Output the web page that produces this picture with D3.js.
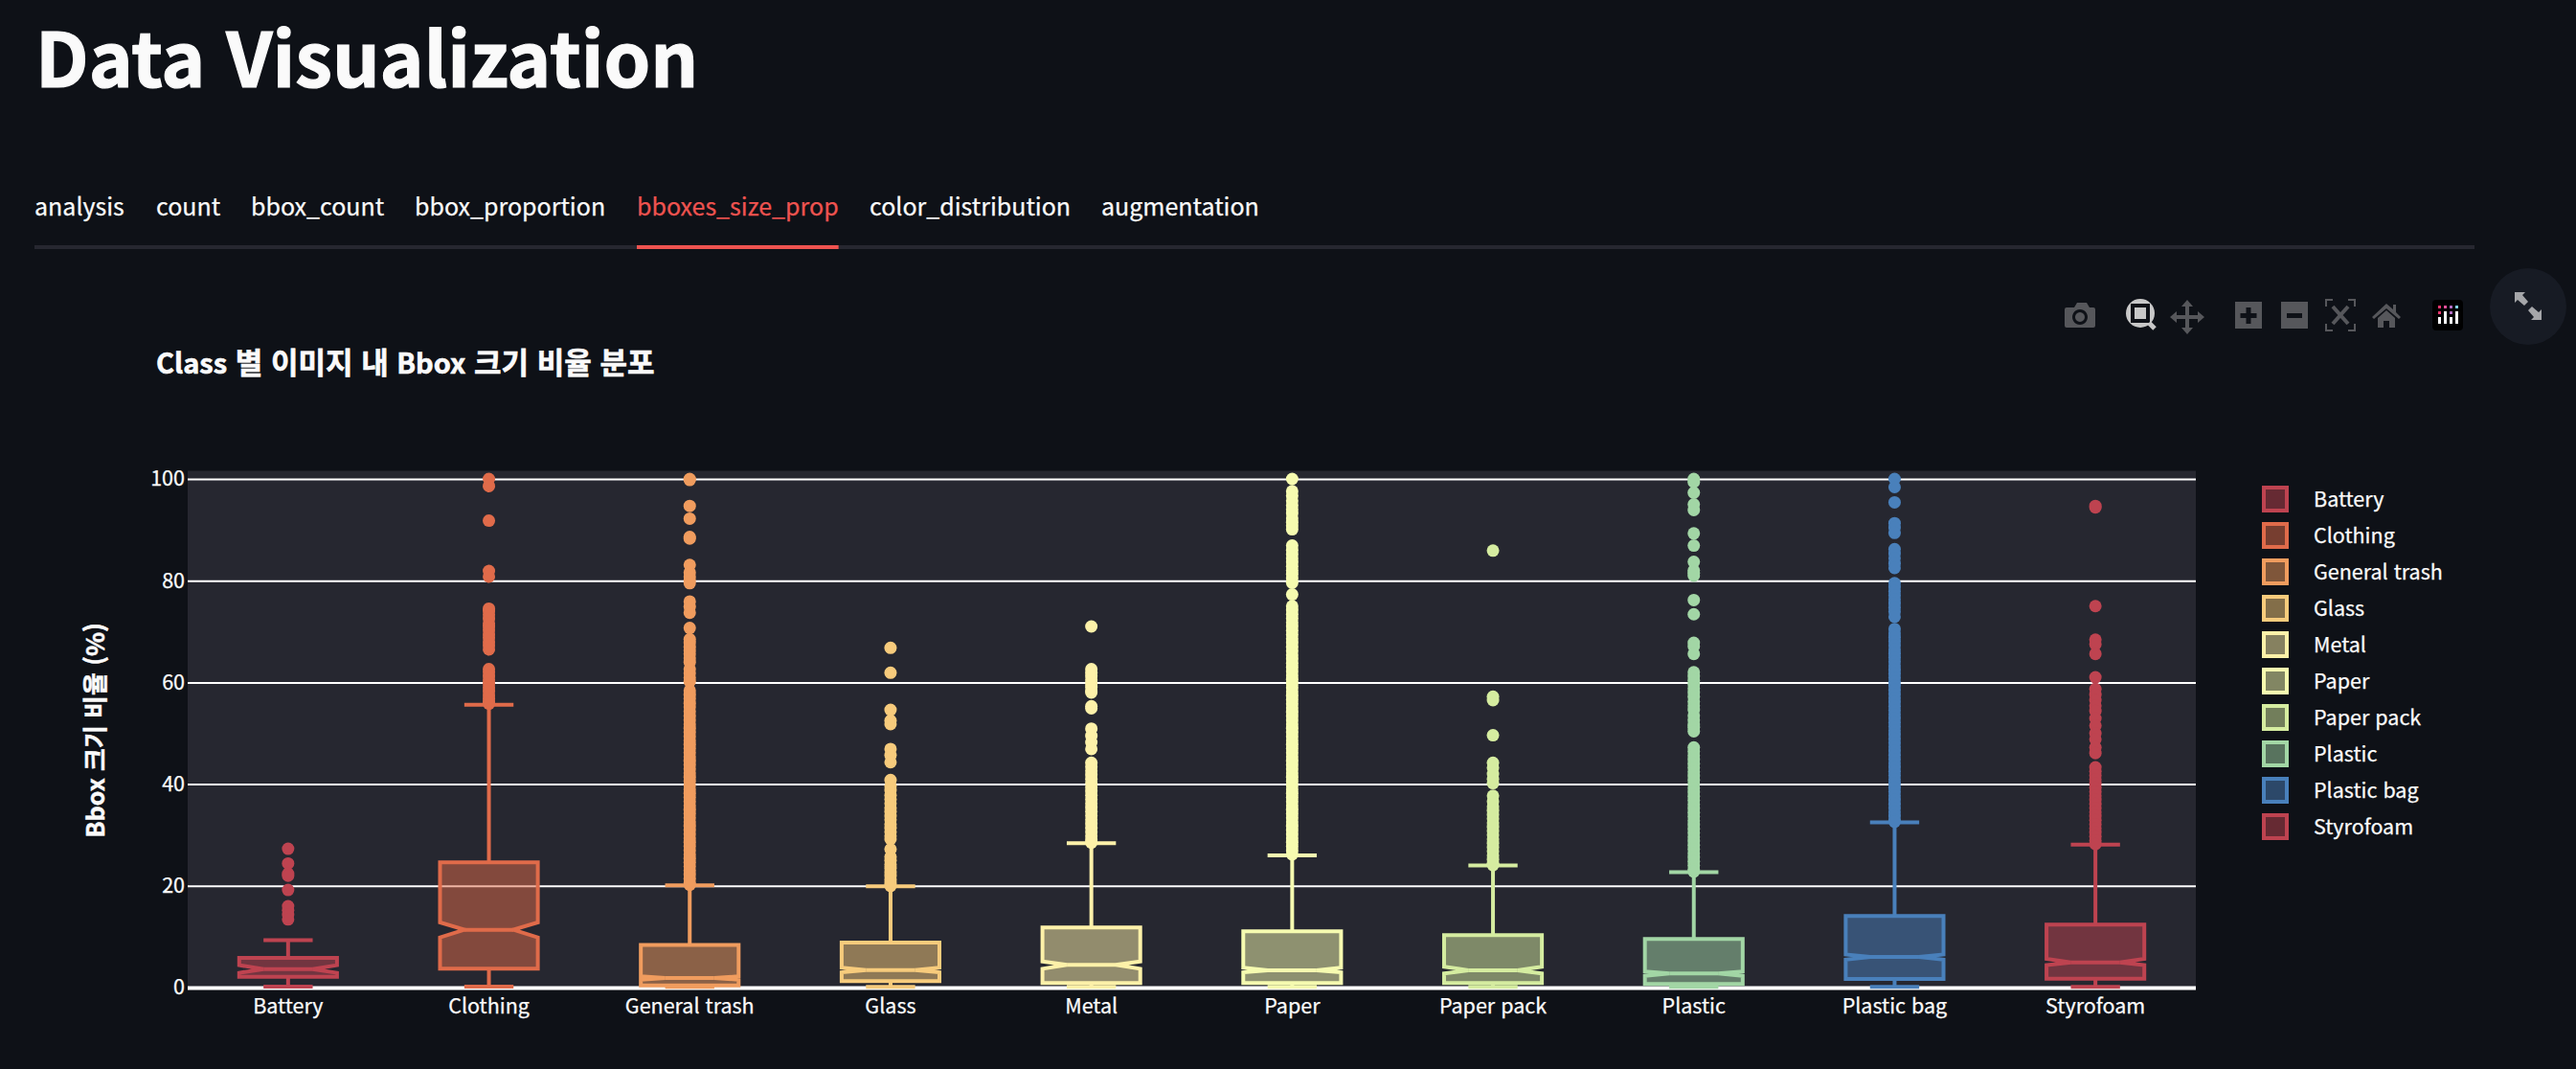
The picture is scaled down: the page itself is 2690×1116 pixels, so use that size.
<!DOCTYPE html>
<html lang="ko">
<head>
<meta charset="utf-8">
<title>Data Visualization</title>
<script src="https://cdnjs.cloudflare.com/ajax/libs/d3/7.8.5/d3.min.js"></script>
<style>
html,body{margin:0;padding:0;background:#0e1117;overflow:hidden}
svg{display:block}
text{font-family:"Noto Sans CJK KR","Noto Sans",sans-serif;stroke:currentColor;stroke-width:.25px}
</style>
</head>
<body>
<svg id="c" width="2690" height="1116"></svg>
<script>
const pageTitle = "Data Visualization";
const chartTitleParts = ["Class"," 별 이미지 내 ","Bbox"," 크기 비율 분포"];
const yTitleParts = ["Bbox"," 크기 비율 (%)"];
const tabs = ["analysis","count","bbox_count","bbox_proportion","bboxes_size_prop","color_distribution","augmentation"];
const activeTab = "bboxes_size_prop";
const yTicks = [0,20,40,60,80,100];

const categories = ["Battery","Clothing","General trash","Glass","Metal","Paper","Paper pack","Plastic","Plastic bag","Styrofoam"];
const colors = ["#be4350","#e06b4a","#f09c5e","#f7cb7c","#fdf1a9","#f6fbb0","#d5eca0","#a2d6a5","#4980bb","#be4350"];

const whiskerLow  = [0.19,0.18,0.12,0.15,0.13,0.13,0.13,0.13,0.15,0.15];
const q1          = [2.13,3.70,0.44,1.26,0.88,0.88,0.88,0.72,1.70,1.76];
const notchLow    = [2.90,9.86,1.57,3.00,3.70,3.00,2.76,2.30,5.50,4.40];
const median      = [3.64,11.37,1.90,3.45,4.46,3.40,3.40,2.76,6.03,4.96];
const notchHigh   = [4.40,12.80,2.20,3.90,5.15,3.90,4.10,3.14,6.50,5.65];
const q3          = [5.84,24.60,8.40,8.86,11.80,11.05,10.30,9.55,14.07,12.37];
const whiskerHigh = [9.30,55.60,20.10,19.90,28.40,26.00,24.00,22.70,32.50,28.10];

const outBattery = [27.3,24.4,22.4,22.0,19.2,16.0,15.2,14.3,13.4];
const outClothing = [100,98.6,91.8,81.9,80.8,74.5,74.0,73.3,72.5,71.6,71.0,70.3,69.5,68.8,68.0,67.3,66.5,62.6,62.0,61.2,60.5,59.8,59.0,58.3,57.5,56.8,56.1,55.8];
const outGeneral = [100,99.8,94.7,92.2,88.6,88.3,83.1,81.6,80.8,80.1,79.5,75.9,74.9,73.7,70.7,68.5,67.8,67.0,66.3,65.6,64.8,64.0,62.6,61.8,60.9,60.2,58.4,57.6,56.8,55.9,55.2,54.3,53.4,52.6,51.8,51.0,50.2,49.4,48.6,47.8,47.0,46.2,45.4,44.6,43.8,43.0,42.2,41.4,40.6,39.8,39.0,38.2,37.4,36.6,35.8,35.0,34.2,33.4,32.6,31.8,31.0,30.2,29.4,28.6,27.8,27.0,26.2,25.4,24.6,23.8,23.0,22.2,21.4,20.6,20.2];
const outGlass = [66.8,61.9,54.6,52.5,51.8,46.9,45.7,44.3,40.8,39.6,38.8,37.8,37.0,36.2,35.3,34.6,33.7,33.0,32.1,31.4,30.6,29.8,29.2,27.2,25.7,25.0,24.2,23.5,22.7,22.0,21.2,20.5,20.0];
const outMetal = [71.0,62.6,61.9,61.2,60.5,59.8,59.1,58.4,58.0,55.3,54.9,50.9,49.5,48.2,46.9,44.2,43.4,42.6,41.8,41.0,40.2,39.4,38.6,37.8,37.0,36.2,35.4,34.6,33.8,33.0,32.2,31.4,30.6,29.8,29.0,28.5];
const outPaper = [100,97.6,96.7,95.7,94.8,94.0,93.2,92.3,91.5,90.8,90.1,86.9,86.0,85.2,84.4,83.6,82.8,82.0,81.3,80.5,79.6,77.3,75.0,74.2,73.4,72.6,71.8,71.0,70.2,69.4,68.6,67.8,67.0,66.2,65.4,64.6,63.8,63.0,62.2,61.4,60.6,59.8,59.0,58.2,57.4,56.6,55.8,55.0,54.2,53.4,52.6,51.8,51.0,50.2,49.4,48.6,47.8,47.0,46.2,45.4,44.6,43.8,43.0,42.2,41.4,40.6,39.8,39.0,38.2,37.4,36.6,35.8,35.0,34.2,33.4,32.6,31.8,31.0,30.2,29.4,28.6,27.8,27.0,26.2];
const outPaperPack = [85.9,57.2,56.5,49.6,44.2,43.2,42.0,41.0,40.2,37.7,36.6,35.6,34.8,34.0,33.2,32.4,31.6,30.8,30.0,29.2,28.4,27.6,26.8,26.0,25.2,24.4,24.1];
const outPlastic = [100,99.4,97.3,95.0,93.9,89.3,86.9,83.7,82.0,81.5,81.0,76.2,73.4,67.8,67.1,65.6,62.0,61.2,60.4,59.6,58.8,58.0,57.2,56.2,55.4,54.6,53.5,52.6,51.8,51.2,50.4,47.2,46.4,45.6,44.8,44.0,43.2,42.4,41.6,40.8,40.0,39.2,38.4,37.6,36.8,36.0,35.2,34.4,33.6,32.8,32.0,31.2,30.4,29.6,28.8,28.0,27.2,26.4,25.6,24.8,24.0,23.2,22.8];
const outPlasticBag = [100,98.4,95.4,91.3,90.4,89.4,86.2,85.3,84.4,83.4,82.5,79.5,78.7,77.9,77.1,76.3,75.5,74.7,73.9,72.9,70.5,69.7,68.9,68.1,67.3,66.5,65.7,64.9,64.1,63.3,62.5,61.7,60.9,60.1,59.3,58.5,57.7,56.9,56.1,55.3,54.5,53.7,52.9,52.1,51.3,50.5,49.7,48.9,48.1,47.3,46.5,45.7,44.9,44.1,43.3,42.5,41.7,40.9,40.1,39.3,38.5,37.7,36.9,36.1,35.3,34.5,33.7,32.9,32.6];
const outStyrofoam = [94.7,94.4,75.0,68.4,67.5,65.6,61.0,58.7,57.6,56.5,55.4,54.4,52.9,51.5,50.0,48.8,47.2,46.1,43.3,42.5,41.7,40.9,40.1,39.3,38.5,37.7,36.9,36.1,35.3,34.5,33.7,32.9,32.1,31.3,30.5,29.7,28.9,28.2];
const outliers = [outBattery,outClothing,outGeneral,outGlass,outMetal,outPaper,outPaperPack,outPlastic,outPlasticBag,outStyrofoam];

const svg = d3.select("#c");
const plot = {l:196, r:2293, t:491.5, b:1033};

// --- page chrome ---
svg.append("text").attr("x",37).attr("y",91).attr("font-size",78).attr("font-weight",700)
  .attr("fill","#fafafa").style("color","#fafafa").style("stroke-width","1.2px").text(pageTitle);

svg.append("rect").attr("x",36).attr("y",256).attr("width",2548).attr("height",4).attr("fill","#262730");
const tabX = [36,163,262,433,665,908,1150];
tabs.forEach((t,i)=>{
  const col = t===activeTab?"#ef5350":"#fafafa";
  const el = svg.append("text").attr("x",tabX[i]).attr("y",224.5).attr("font-size",25)
    .attr("fill",col).style("color",col).text(t);
  if(t===activeTab){
    const w = el.node().getComputedTextLength();
    svg.append("rect").attr("x",tabX[i]).attr("y",256).attr("width",w).attr("height",4).attr("fill","#ef5350");
  }
});

// mixed text: Latin parts are set smaller than the Korean parts
const latin = /^[A-Za-z]+$/;
const ct = svg.append("text").attr("x",163).attr("y",389.5).attr("font-weight",700).attr("fill","#fafafa")
  .style("color","#fafafa").style("stroke-width","0.6px").attr("xml:space","preserve");
chartTitleParts.forEach(p=>ct.append("tspan").attr("font-size",latin.test(p)?29:31).text(p));

// --- scales ---
const x = d3.scaleBand().domain(categories).range([plot.l,plot.r]);
const y = d3.scaleLinear().domain([0,100]).range([1031,500]);
const boxW = x.step()*0.487, capW = x.step()*0.245;

// --- plot background and grid ---
svg.append("rect").attr("x",plot.l).attr("y",plot.t).attr("width",plot.r-plot.l).attr("height",plot.b-plot.t).attr("fill","#262730");

const yAxis = svg.append("g").attr("transform",`translate(${plot.l},0)`)
  .call(d3.axisLeft(y).tickValues(yTicks).tickSize(-(plot.r-plot.l)).tickPadding(3));
yAxis.select(".domain").remove();
yAxis.selectAll("line").attr("stroke","#fff").attr("stroke-width",d=>d===0?4:2);
yAxis.selectAll("text").attr("fill","#fafafa").style("color","#fafafa").attr("font-size",21.5);

const xAxis = svg.append("g").attr("transform",`translate(0,${plot.b})`)
  .call(d3.axisBottom(x).tickSize(0).tickPadding(0));
xAxis.select(".domain").remove();
xAxis.selectAll("text").attr("fill","#fafafa").style("color","#fafafa").attr("font-size",21.5).attr("dy","0").attr("y",25);

const yt = svg.append("text").attr("transform",`translate(109,${(plot.t+plot.b)/2}) rotate(-90)`)
  .attr("text-anchor","middle").attr("font-weight",700).attr("fill","#fafafa")
  .style("color","#fafafa").style("stroke-width","0.5px").attr("xml:space","preserve");
yTitleParts.forEach(p=>yt.append("tspan").attr("font-size",latin.test(p)?25:26).text(p));

// --- boxes ---
categories.forEach((c,i)=>{
  const g = svg.append("g");
  const cx = x(c)+x.bandwidth()/2, col = colors[i];
  const x0 = cx-boxW/2, x1 = cx+boxW/2, nx0 = cx-boxW/4, nx1 = cx+boxW/4;
  const pts = [[x0,y(q1[i])],[x0,y(notchLow[i])],[nx0,y(median[i])],[x0,y(notchHigh[i])],[x0,y(q3[i])],
               [x1,y(q3[i])],[x1,y(notchHigh[i])],[nx1,y(median[i])],[x1,y(notchLow[i])],[x1,y(q1[i])]];
  g.append("path").attr("d",d3.line()(pts)+"Z").attr("fill",col).attr("fill-opacity",0.5)
    .attr("stroke",col).attr("stroke-width",4).attr("stroke-linejoin","miter");
  g.append("line").attr("x1",nx0).attr("x2",nx1).attr("y1",y(median[i])).attr("y2",y(median[i])).attr("stroke",col).attr("stroke-width",4);
  [[q3[i],whiskerHigh[i]],[q1[i],whiskerLow[i]]].forEach(([a,b])=>{
    g.append("line").attr("x1",cx).attr("x2",cx).attr("y1",y(a)).attr("y2",y(b)).attr("stroke",col).attr("stroke-width",4);
    g.append("line").attr("x1",cx-capW/2).attr("x2",cx+capW/2).attr("y1",y(b)).attr("y2",y(b)).attr("stroke",col).attr("stroke-width",4);
  });
  g.selectAll("circle").data(outliers[i]).join("circle")
    .attr("cx",cx).attr("cy",d=>y(d)).attr("r",6.5).attr("fill",col);
});

// --- legend ---
const legY = d3.scalePoint().domain(categories).range([521,521+38*9]);
categories.forEach((c,i)=>{
  svg.append("rect").attr("x",2364).attr("y",legY(c)-12).attr("width",24).attr("height",24)
    .attr("fill",colors[i]).attr("fill-opacity",0.5).attr("stroke",colors[i]).attr("stroke-width",4);
  svg.append("text").attr("x",2416).attr("y",legY(c)+8).attr("font-size",21.5).attr("fill","#fafafa").style("color","#fafafa").text(c);
});

// --- modebar ---
const ico = "#56575b", icoOn = "#c8c8c8";
const mb = svg.append("g");
mb.append("path").attr("fill",ico).attr("fill-rule","evenodd")
  .attr("d","M2158 321h8l3-5h10l3 5h4a2 2 0 0 1 2 2v17a2 2 0 0 1-2 2h-28a2 2 0 0 1-2-2v-17a2 2 0 0 1 2-2zM2172 323a8 8 0 1 0 .01 0zM2172 326a5 5 0 1 1-.01 0z");
mb.append("circle").attr("cx",2235).attr("cy",327).attr("r",15).attr("fill",icoOn);
mb.append("rect").attr("x",2227).attr("y",319).attr("width",16).attr("height",16).attr("fill","#c8c8c8").attr("stroke","#0e1117").attr("stroke-width",4);
mb.append("line").attr("x1",2244).attr("y1",337).attr("x2",2250).attr("y2",343).attr("stroke",icoOn).attr("stroke-width",5);
mb.append("path").attr("fill",ico).attr("d","M2284 313l6 7h-4v9h9v-4l7 6-7 6v-4h-9v9h4l-6 7-6-7h4v-9h-9v4l-7-6 7-6v4h9v-9h-4z");
mb.append("path").attr("fill",ico).attr("fill-rule","evenodd").attr("d","M2334 315h28v28h-28zM2345.5 321v6h-6v5h6v6h5v-6h6v-5h-6v-6z");
mb.append("path").attr("fill",ico).attr("fill-rule","evenodd").attr("d","M2382 315h28v28h-28zM2388 327v5h16v-5z");
mb.append("path").attr("fill","none").attr("stroke",ico).attr("stroke-width",2)
  .attr("d","M2429 320v-7h7M2452 313h7v7M2459 338v7h-7M2436 345h-7v-7");
mb.append("path").attr("fill","none").attr("stroke",ico).attr("stroke-width",4).attr("d","M2436 320l16 18M2452 320l-16 18");
mb.append("path").attr("fill",ico).attr("d","M2492 317l7 6v-5h3v8l5 5-2 2-13-11-13 11-2-2zM2483 332l9-8 9 8v10h-6v-7h-6v7h-6z");
mb.append("rect").attr("x",2540).attr("y",313).attr("width",32).attr("height",32).attr("rx",4).attr("fill","#000");
const logoBars = [{c:"#e8356d",h:7,d:"#e8356d"},{c:"#e8509a",h:13,d:null},{c:"#b06bc0",h:7,d:"#b06bc0"},{c:"#7fd3f0",h:13,d:null}];
logoBars.forEach((b,i)=>{
  const bx = 2546+i*6;
  mb.append("rect").attr("x",bx).attr("y",319).attr("width",3).attr("height",3).attr("fill",b.c);
  if(b.d) mb.append("rect").attr("x",bx).attr("y",325).attr("width",3).attr("height",3).attr("fill",b.d);
  mb.append("rect").attr("x",bx).attr("y",338-b.h).attr("width",3).attr("height",b.h).attr("fill","#fff");
});
mb.append("circle").attr("cx",2640).attr("cy",320).attr("r",40).attr("fill","#171b24");
mb.append("path").attr("fill","#a5a6a9").attr("d","M2626 305h11l-3 3 6 7-4 4-7-6-3 3zM2654 334h-11l3-3-6-7 4-4 7 6 3-3z");
</script>
</body>
</html>
